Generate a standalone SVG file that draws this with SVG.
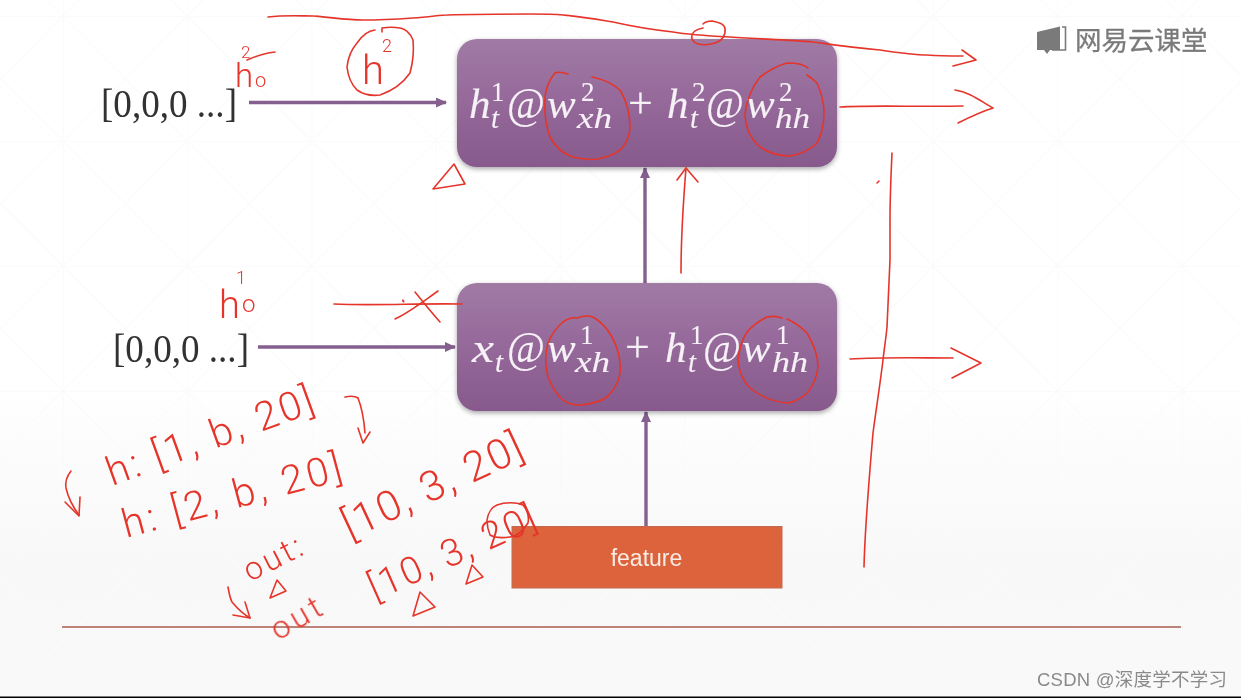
<svg xmlns="http://www.w3.org/2000/svg" width="1241" height="698" viewBox="0 0 1241 698">
<style>
.ink{fill:none;stroke:#e5352b;stroke-width:1.6;stroke-linecap:round;stroke-linejoin:round}
.hw{font-family:"Roboto","Liberation Sans",Arial,sans-serif;fill:#e5352b;font-weight:300}
.arr{fill:none;stroke:#85608f;stroke-width:3.4}
.m,.s,.n,.o{font-family:"Liberation Serif","Times New Roman",serif;fill:#f6f1f6;stroke:#f6f1f6;stroke-width:.12}
.m{font-style:italic;font-size:43px}
.s{font-style:italic;font-size:29px}
.n{font-size:27px}
.o{font-size:44px}
.b{font-family:"Liberation Serif","Times New Roman",serif;fill:#333;font-size:39px}
.box{fill:url(#pg);filter:url(#sh)}
</style>
<defs>
<linearGradient id="bg" x1="0" y1="0" x2="0" y2="1"><stop offset="0.55" stop-color="#fff"/><stop offset="0.8" stop-color="#f8f8f8"/><stop offset="1" stop-color="#f9f9f9"/></linearGradient>
<linearGradient id="pg" x1="0" y1="0" x2="0" y2="1"><stop offset="0" stop-color="#a07ba4"/><stop offset="0.45" stop-color="#966a9b"/><stop offset="1" stop-color="#87598c"/></linearGradient>
<filter id="sh" x="-5%" y="-10%" width="110%" height="125%"><feDropShadow dx="0" dy="2" stdDeviation="2.5" flood-color="#000" flood-opacity=".35"/></filter>
<filter id="soft"><feGaussianBlur stdDeviation="0.35"/></filter>
<pattern id="tile" x="63" y="16" width="124.3" height="125" patternUnits="userSpaceOnUse">
<path d="M0 0H124.3M0 0V125" fill="none" stroke="#f6f7f9" stroke-width="1"/>
<path d="M0 0L124.3 125M124.3 0L0 125" fill="none" stroke="#fafafb" stroke-width="1"/>
</pattern>
<marker id="ah" markerWidth="12" markerHeight="12" refX="10" refY="5" orient="auto" markerUnits="userSpaceOnUse"><path d="M0 0L11 5L0 10Z" fill="#85608f"/></marker>
</defs>
<rect width="1241" height="698" fill="url(#bg)"/>
<rect width="1241" height="698" fill="url(#tile)"/>
<g filter="url(#soft)">
<g id="connectors">
<path class="arr" d="M249 102.500H446" marker-end="url(#ah)"/>
<path class="arr" d="M258 347H455" marker-end="url(#ah)"/>
<path class="arr" d="M645 283V168" marker-end="url(#ah)"/>
<path class="arr" d="M646 526V412" marker-end="url(#ah)"/>
</g>
<g id="node-input-2"><text class="b" x="101" y="117" textLength="136" lengthAdjust="spacingAndGlyphs">[0,0,0 ...]</text></g>
<g id="node-input-1"><text class="b" x="113" y="362" textLength="136" lengthAdjust="spacingAndGlyphs">[0,0,0 ...]</text></g>
<g id="node-top">
<rect class="box" x="457" y="39" width="380" height="128" rx="20"/>
<text class="m" x="469" y="118">h</text><text class="n" x="491" y="101">1</text><text class="s" x="491" y="128">t</text>
<text class="o" x="507" y="118" textLength="38" lengthAdjust="spacingAndGlyphs">@</text>
<text class="m" x="547" y="118">w</text><text class="n" x="581" y="101">2</text><text class="s" x="577" y="128" textLength="35" lengthAdjust="spacingAndGlyphs">xh</text>
<text class="o" x="628" y="118">+</text>
<text class="m" x="667" y="118">h</text><text class="n" x="692" y="101">2</text><text class="s" x="690" y="128">t</text>
<text class="o" x="706" y="118" textLength="38" lengthAdjust="spacingAndGlyphs">@</text>
<text class="m" x="746" y="118">w</text><text class="n" x="779" y="101">2</text><text class="s" x="775" y="128" textLength="35" lengthAdjust="spacingAndGlyphs">hh</text>
</g>
<g id="node-bottom">
<rect class="box" x="457" y="283" width="380" height="128" rx="20"/>
<text class="m" x="472" y="362" textLength="22" lengthAdjust="spacingAndGlyphs">x</text><text class="s" x="495" y="372">t</text>
<text class="o" x="507" y="362" textLength="38" lengthAdjust="spacingAndGlyphs">@</text>
<text class="m" x="547" y="362">w</text><text class="n" x="580" y="344">1</text><text class="s" x="575" y="372" textLength="35" lengthAdjust="spacingAndGlyphs">xh</text>
<text class="o" x="625" y="362">+</text>
<text class="m" x="665" y="362">h</text><text class="n" x="690" y="344">1</text><text class="s" x="688" y="372">t</text>
<text class="o" x="703" y="362" textLength="38" lengthAdjust="spacingAndGlyphs">@</text>
<text class="m" x="742" y="362">w</text><text class="n" x="776" y="344">1</text><text class="s" x="772" y="372" textLength="36" lengthAdjust="spacingAndGlyphs">hh</text>
</g>
<g id="node-feature">
<rect x="512" y="526.500" width="270" height="61.500" fill="#dc643a" stroke="#bf6a50" stroke-width="1"/>
<text x="646.500" y="566" text-anchor="middle" font-family="'Liberation Sans',Arial,sans-serif" font-size="23" fill="#f8ece6">feature</text>
</g>
<path d="M62 627H1181" stroke="#bd8278" stroke-width="1.800" fill="none"/>
<g id="logo">
<path d="M1037 32L1060 26.500V50H1050L1047 54L1044 50H1037Z" fill="#7a7a7a"/>
<path d="M1062 27H1065.500V50H1052" stroke="#7a7a7a" stroke-width="1.600" fill="none"/>
<text x="1075" y="50" font-family="'Noto Sans CJK SC',sans-serif" font-size="26.500" fill="#7a7a7a" stroke="#7a7a7a" stroke-width=".3">网易云课堂</text>
</g>
<g id="ink" class="ink">
<path d="M268 17C285 15 300 16 313 16C330 17 345 20 363 20C380 20 398 19 413 18C430 17 440 15 447 15C480 14 510 14 530 14C545 14 553 14 563 15C585 17 595 19 613 22C635 27 655 30 673 32C690 35 710 36 730 37C760 39 790 40 813 42C835 45 860 48 880 50C900 53 915 55 927 55C940 56 950 56 963 56"/>
<path d="M962 50L976 60L953 66"/>
<path d="M703 24C706 21 710 21 712 21C718 22 725 24 725 29C726 35 722 41 715 43C709 45 703 45 698 44C692 42 691 38 692 35C693 31 698 29 703 28"/>
<path d="M840 107C870 105 920 107 963 106"/>
<path d="M955 90C970 92 982 102 993 108C980 112 968 118 958 123"/>
<path d="M568 74C562 72 557 72 555 73C549 80 546 88 545 97C544 112 546 126 550 137C556 148 564 154 573 157C581 159 590 160 597 159C608 157 618 153 623 147C628 140 630 134 630 127C630 113 626 100 620 90C612 83 602 79 592 77"/>
<path d="M808 68C804 64 796 63 787 63C776 66 768 71 760 77C752 87 747 100 745 113C745 127 751 139 760 147C769 153 780 156 790 156C801 154 810 150 817 143C822 134 824 123 824 113C824 103 821 92 817 83C814 80 810 77 807 75"/>
<path d="M681 273C681 240 683 205 686 168"/>
<path d="M677 180L686 168L698 182"/>
<path d="M892 153C891 175 890 198 890 220C890 235 890 248 890 260C889 285 888 306 887 327C886 338 884 350 883 360C880 385 876 410 873 433C869 480 865 525 864 567"/>
<path d="M877 183L879 181"/>
<path d="M850 359C885 357 920 358 953 358"/>
<path d="M951 348L981 363L952 378"/>
<path d="M577 318C572 317 567 319 563 322C556 328 551 335 548 343C545 354 545 366 548 377C552 387 557 395 563 400C568 404 574 405 580 405C590 404 600 402 607 397C614 390 619 382 620 373C621 360 618 348 612 337C607 328 600 321 593 317C587 315 582 316 577 318"/>
<path d="M782 318C777 316 772 316 767 317C759 321 752 326 747 332C742 340 739 350 738 360C739 372 744 382 750 388C761 397 775 402 787 403C795 402 802 398 807 393C813 386 817 376 818 367C818 355 813 343 807 333C801 327 794 322 787 319"/>
<path d="M334 304C375 306 420 303 462 304"/>
<path d="M395 319C410 312 425 300 438 291"/>
<path d="M415 292C423 302 432 313 440 322"/>
<path d="M403 300.500L403.500 301.500" stroke-width="2"/>
<path d="M375 30C366 31 361 37 357 43C351 50 348 58 347 67C348 76 351 84 357 90C364 95 372 96 380 95C392 91 403 83 410 73C413 62 414 50 413 40C410 33 406 29 400 28C394 27 388 27 382 28V32"/>
<path d="M433 189L454 164L465 184Z"/>
<path d="M71 471C67 476 65 482 66 488C68 497 73 507 79 515"/>
<path d="M65 502L79 516L80 497"/>
<path d="M345 397C350 396 355 396 358 398C362 408 364 420 365 433"/>
<path d="M358 428L363 443L370 432"/>
<path d="M228 587C229 593 230 598 232 602C237 608 243 614 250 618"/>
<path d="M233 615L250 618L245 602"/>
<path d="M270 598L277 580L286 591Z"/>
<path d="M413 616L420 592L435 607Z"/>
<path d="M466 584L472 565L483 577Z"/>
<path d="M487 520C488 513 492 507 497 505C505 502 516 502 523 505C528 511 529 518 528 523C523 531 517 536 510 537C503 538 495 538 490 535C488 530 487 525 487 520Z"/>
<path d="M247 60C256 56 266 53 275 52"/>
</g>
<g id="notes" class="hw">
<text x="235" y="87" font-size="33">h</text><text x="255" y="87" font-size="20">o</text><text x="241" y="58" font-size="17">2</text>
<text x="362" y="84" font-size="40">h</text><text x="382" y="52" font-size="18">2</text>
<text x="219" y="318" font-size="38">h</text><text x="236" y="284" font-size="18">1</text><text x="242" y="312" font-size="24">o</text>
<text transform="translate(112 486) rotate(-20)" font-size="40" textLength="218" lengthAdjust="spacing">h: [1, b, 20]</text>
<text transform="translate(126 538) rotate(-15)" font-size="40" textLength="226" lengthAdjust="spacing">h: [2, b, 20]</text>
<text transform="translate(250 582) rotate(-27)" font-size="32" textLength="62" lengthAdjust="spacing">out:</text>
<text transform="translate(350 540) rotate(-25)" font-size="42" textLength="195" lengthAdjust="spacing">[10, 3, 20]</text>
<text transform="translate(278 641) rotate(-30)" font-size="32" textLength="54" lengthAdjust="spacing">out</text>
<text transform="translate(375 601) rotate(-24)" font-size="38" textLength="180" lengthAdjust="spacing">[10, 3, 20]</text>
</g>
<g id="watermark"><text x="1037" y="686" font-family="'Liberation Sans','Noto Sans CJK SC',sans-serif" font-size="18.500" fill="#8a8a8a" textLength="190" lengthAdjust="spacing">CSDN @深度学不学习</text></g>
</g>
<rect y="696.500" width="1241" height="1.500" fill="#000"/>
</svg>
